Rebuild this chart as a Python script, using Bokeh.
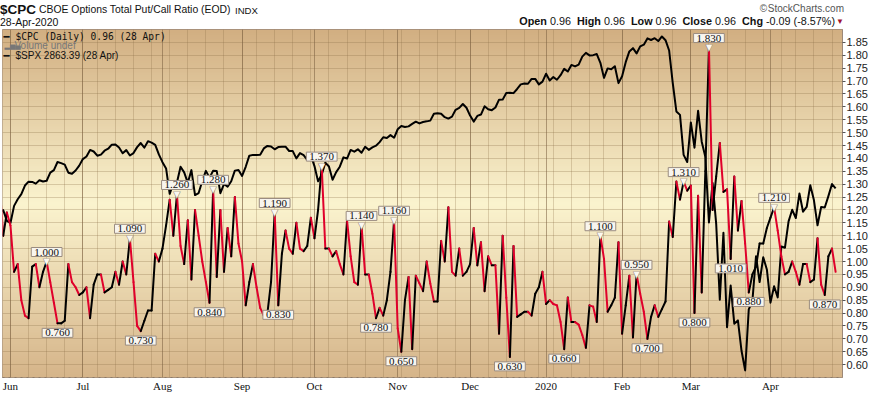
import numpy as np
import pandas as pd
from bokeh.plotting import figure
from bokeh.layouts import column
from bokeh.models import (ColumnDataSource, Range1d, FixedTicker, Grid, Label, Div,
                          NumeralTickFormatter)
from bokeh.core.properties import value
from bokeh.embed import file_html
from bokeh.resources import INLINE

# ---------------- data ----------------
holidays = ["2019-07-04", "2019-09-02", "2019-11-28", "2019-12-25",
            "2020-01-01", "2020-01-20", "2020-02-17", "2020-04-10"]
first_day, last_day = "2019-05-29", "2020-04-28"

cpc_may = [1.30, 1.10, 1.19]
cpc_jun = [1.14, 0.96, 0.99, 0.85, 0.79, 0.78, 0.98, 0.99, 0.90, 0.96,
           1.00, 0.92, 0.84, 0.76, 0.76, 0.77, 0.99, 0.92, 0.90, 0.87]
cpc_jul = [0.88, 0.90, 0.78, 0.91, 0.95, 0.95, 0.88, 0.89, 0.90, 0.96, 0.91,
           1.00, 0.95, 1.09, 0.92, 0.75, 0.73, 0.77, 0.81, 0.81, 1.03, 1.00]
cpc_aug = [1.05, 1.14, 1.24, 1.10, 1.26, 1.06, 0.99, 1.16, 0.93, 1.20, 1.10,
           1.00, 0.92, 0.84, 1.28, 0.94, 1.20, 0.96, 1.13, 1.02, 1.25, 1.07]
cpc_sep = [1.00, 0.83, 0.92, 0.99, 0.90, 0.82, 0.79, 0.80, 0.92, 1.19,
           0.83, 1.03, 1.12, 1.05, 1.03, 1.15, 1.05, 1.04, 1.06, 1.17]
cpc_oct = [1.09, 1.20, 1.37, 1.05, 1.05, 1.02, 1.04, 0.99, 0.95, 1.16, 1.02, 0.92,
           0.91, 1.14, 0.95, 0.95, 0.875, 0.78, 0.82, 0.79, 0.85, 0.96, 1.16]
cpc_nov = [0.74, 0.65, 0.85, 0.94, 0.66, 0.945, 0.915, 0.885, 1.00, 0.915,
           0.845, 0.845, 1.08, 1.00, 1.21, 0.96, 0.945, 1.05, 0.945, 0.96]
cpc_dec = [0.99, 1.13, 0.985, 1.075, 0.885, 1.02, 0.985, 0.985, 0.72, 1.10, 0.86,
           0.63, 1.06, 0.785, 0.795, 0.805, 0.805, 0.79, 0.875, 0.90, 0.96]
cpc_jan = [0.835, 0.85, 0.835, 0.83, 0.765, 0.66, 0.86, 0.765, 0.765, 0.755, 0.715,
           0.665, 0.83, 0.825, 0.765, 1.10, 1.01, 0.805, 0.83, 0.86, 1.075]
cpc_feb = [0.72, 0.83, 0.945, 0.705, 0.95, 0.875, 0.805, 0.70, 0.785, 0.83,
           0.785, 0.815, 0.845, 1.155, 1.095, 1.31, 1.24, 1.31, 1.275]
cpc_mar = [1.295, 0.80, 1.255, 0.88, 1.35, 1.83, 1.20, 1.33, 1.46, 1.27, 1.28,
           1.01, 1.33, 1.12, 1.235, 1.07, 0.88, 0.95, 0.98, 1.07, 1.07, 1.13]
cpc_apr = [1.17, 1.21, 1.12, 1.02, 0.95, 0.96, 1.00, 0.96, 0.91, 0.99,
           0.99, 0.92, 0.93, 1.09, 0.91, 0.87, 1.02, 1.05, 0.96]

spx_may = [2783.02, 2788.86, 2752.06]
spx_jun = [2744.45, 2803.27, 2826.15, 2843.49, 2873.34, 2886.73, 2885.72, 2879.84,
           2891.64, 2886.98, 2889.67, 2917.75, 2926.46, 2954.18, 2950.46, 2945.35,
           2917.38, 2913.78, 2924.92, 2941.76]
spx_jul = [2964.33, 2973.01, 2995.82, 2990.41, 2975.95, 2979.63, 2993.07, 2999.91,
           3013.77, 3014.30, 3004.04, 2984.42, 2995.11, 2976.61, 2985.03, 3005.47,
           3019.56, 3003.67, 3025.86, 3020.97, 3013.18, 2980.38]
spx_aug = [2953.56, 2932.05, 2844.74, 2881.77, 2883.98, 2938.09, 2918.65, 2882.70,
           2926.32, 2840.60, 2847.60, 2888.68, 2923.65, 2900.51, 2924.43, 2922.95,
           2847.11, 2878.38, 2869.16, 2887.94, 2924.58, 2926.46]
spx_sep = [2906.27, 2937.78, 2976.00, 2978.71, 2978.43, 2979.39, 3000.93, 3009.57,
           3007.39, 2997.96, 3005.70, 3006.73, 3006.79, 2992.07, 2991.78, 2966.60,
           2984.87, 2977.62, 2961.79, 2976.74]
spx_oct = [2940.25, 2887.61, 2910.63, 2952.01, 2938.79, 2893.06, 2919.40, 2938.13,
           2970.27, 2966.15, 2995.68, 2989.69, 2997.95, 2986.20, 3006.72, 2995.99,
           3004.52, 3010.29, 3022.55, 3039.42, 3036.89, 3046.77, 3037.56]
spx_nov = [3066.91, 3078.27, 3074.62, 3076.78, 3085.18, 3093.08, 3087.01, 3091.84,
           3094.04, 3096.63, 3120.46, 3122.03, 3120.18, 3108.46, 3103.54, 3110.29,
           3133.64, 3140.52, 3153.63, 3140.98]
spx_dec = [3113.87, 3093.20, 3112.76, 3117.43, 3145.91, 3135.96, 3132.52, 3141.63,
           3168.57, 3168.80, 3191.45, 3192.52, 3191.14, 3205.37, 3221.22, 3224.01,
           3223.38, 3239.91, 3240.02, 3221.29, 3230.78]
spx_jan = [3257.85, 3234.85, 3246.28, 3237.18, 3253.05, 3274.70, 3265.35, 3288.13,
           3283.15, 3289.29, 3316.81, 3329.62, 3320.79, 3321.75, 3325.54, 3295.47,
           3243.63, 3276.24, 3273.40, 3283.66, 3225.52]
spx_feb = [3248.92, 3297.59, 3334.69, 3345.78, 3327.71, 3352.09, 3357.75, 3379.45,
           3373.94, 3380.16, 3370.29, 3386.15, 3373.23, 3337.75, 3225.89, 3128.21,
           3116.39, 2978.76, 2954.22]
spx_mar = [3090.23, 3003.37, 3130.12, 3023.94, 2972.37, 2746.56, 2882.23, 2741.38,
           2480.64, 2711.02, 2386.13, 2529.19, 2398.10, 2409.39, 2304.92, 2237.40,
           2447.33, 2475.56, 2630.07, 2541.47, 2626.65, 2584.59]
spx_apr = [2470.50, 2526.90, 2488.65, 2663.68, 2659.41, 2749.98, 2789.82, 2761.63,
           2846.06, 2783.36, 2799.55, 2874.56, 2823.16, 2736.56, 2799.31, 2797.80,
           2836.74, 2878.48, 2863.39]

# positions (trading-day index) of the annotated peaks / troughs
label_idx = [13, 16, 36, 39, 49, 58, 59, 76, 77, 89, 100, 104, 109, 111,
             141, 156, 166, 176, 179, 189, 192, 196, 202, 207, 214, 228]

y_ticks = [0.60, 0.65, 0.70, 0.75, 0.80, 0.85, 0.90, 0.95, 1.00, 1.05, 1.10, 1.15, 1.20,
           1.25, 1.30, 1.35, 1.40, 1.45, 1.50, 1.55, 1.60, 1.65, 1.70, 1.75, 1.80, 1.85]
month_names = {6: "Jun", 7: "Jul", 8: "Aug", 9: "Sep", 10: "Oct", 11: "Nov",
               12: "Dec", 1: "2020", 2: "Feb", 3: "Mar", 4: "Apr"}

# ---------------- build ----------------
cpc = (cpc_may + cpc_jun + cpc_jul + cpc_aug + cpc_sep + cpc_oct + cpc_nov +
       cpc_dec + cpc_jan + cpc_feb + cpc_mar + cpc_apr)
spx = (spx_may + spx_jun + spx_jul + spx_aug + spx_sep + spx_oct + spx_nov +
       spx_dec + spx_jan + spx_feb + spx_mar + spx_apr)
dates = [d for d in pd.bdate_range(first_day, last_day)
         if d.strftime("%Y-%m-%d") not in holidays]
n = len(cpc)
assert n == len(spx) == len(dates), (n, len(spx), len(dates))
xs = list(range(n))

month_x, month_lab, week_x = [], [], []
for k in range(1, n):
    if dates[k].month != dates[k - 1].month:
        month_x.append(k)
        month_lab.append(month_names[dates[k].month])
    if dates[k].isocalendar()[1] != dates[k - 1].isocalendar()[1]:
        week_x.append(k)

X0, X1 = 0.8, n + 0.9
Y0, Y1 = 0.55, 1.90
FONT = "Liberation Sans"
NARROW = "Liberation Sans Narrow"
FIG_H = 365

p = figure(width=870, height=FIG_H, output_backend="svg", toolbar_location=None, tools="",
           x_range=Range1d(X0, X1), y_range=Range1d(Y0, Y1),
           y_axis_location="right",
           min_border_left=2, min_border_right=25, min_border_top=0, min_border_bottom=0)
p.extra_y_ranges = {"spx": Range1d(2213, 3410)}
p.border_fill_color = "white"
p.background_fill_color = "#f2e4bd"
p.outline_line_color = "#9c8878"
p.outline_line_width = 1

# background gradient (tan - cream - tan)
N = 200
t = np.linspace(0, 1, N)
stops_t = [0.0, 0.5, 1.0]
stops_c = np.array([[214, 181, 138], [251, 244, 207], [210, 175, 130]], dtype=float)
img = np.empty((N, 1), dtype=np.uint32)
view = img.view(dtype=np.uint8).reshape((N, 1, 4))
for ch in range(3):
    view[:, 0, ch] = np.interp(t, stops_t, stops_c[:, ch]).astype(np.uint8)
view[:, 0, 3] = 255
p.image_rgba(image=[img], x=X0 - 1, y=Y0, dw=X1 - X0 + 2, dh=Y1 - Y0, level="image")

# grids
p.ygrid.ticker = FixedTicker(ticks=y_ticks)
p.ygrid.grid_line_color = "#8c7048"
p.ygrid.grid_line_alpha = 0.30
p.xgrid.ticker = FixedTicker(ticks=week_x)
p.xgrid.grid_line_color = "#8c7048"
p.xgrid.grid_line_alpha = 0.28
p.add_layout(Grid(dimension=0, ticker=FixedTicker(ticks=month_x),
                  grid_line_color="#7a5e40", grid_line_alpha=0.55))

# right axis
ay = p.yaxis[0]
ay.ticker = FixedTicker(ticks=y_ticks)
ay.formatter = NumeralTickFormatter(format="0.00")
ay.axis_line_color = "#9c8878"
ay.major_tick_out = 3
ay.major_tick_in = 0
ay.minor_tick_out = 0
ay.minor_tick_in = 0
ay.minor_tick_line_color = None
ay.major_tick_line_color = "#555555"
ay.major_label_standoff = 1
ay.major_label_text_font = FONT
ay.major_label_text_font_size = "11px"
ay.major_label_text_color = "#222222"

# bottom axis (month labels)
ax = p.xaxis[0]
ax.ticker = FixedTicker(ticks=month_x)
ax.major_label_overrides = {mx: ml for mx, ml in zip(month_x, month_lab)}
ax.major_tick_out = 0
ax.major_tick_in = 0
ax.minor_tick_out = 0
ax.minor_tick_in = 0
ax.major_tick_line_color = None
ax.minor_tick_line_color = None
ax.axis_line_color = "#8c7a6a"
ax.axis_line_dash = "dotted"
ax.major_label_standoff = 2
ax.major_label_text_font = NARROW
ax.major_label_text_font_size = "11px"
ax.major_label_text_color = "#111111"

# SPX overlay
p.line(xs, spx, y_range_name="spx", line_color="black", line_width=2, line_join="round")

# CPC, red when falling, black when rising
seg_col = ["#000000" if cpc[k + 1] >= cpc[k] else "#e0002b" for k in range(n - 1)]
seg = ColumnDataSource(dict(x0=xs[:-1], y0=cpc[:-1], x1=xs[1:], y1=cpc[1:], c=seg_col))
p.segment("x0", "y0", "x1", "y1", source=seg, line_color="c", line_width=2, line_cap="round")

# value labels
pk = [k for k in label_idx if cpc[k] >= cpc[k - 1]]
tr = [k for k in label_idx if cpc[k] < cpc[k - 1]]
for ks, anchor, off, arrow, aoff in ((pk, "bottom_center", -5, "\u25bc", 0),
                                      (tr, "top_center", 5, "\u25b2", 7)):
    src = ColumnDataSource(dict(x=ks, y=[cpc[k] for k in ks],
                                t=["%.3f" % cpc[k] for k in ks]))
    p.text("x", "y", text=value(arrow), source=src, text_align="center",
           text_baseline="alphabetic", y_offset=aoff, text_color="#9a8c80",
           text_font=value("DejaVu Sans"), text_font_size="10px")
    p.text("x", "y", text=value(arrow), source=src, text_align="center",
           text_baseline="alphabetic", y_offset=aoff, text_color="#fbf8f0",
           text_font=value("DejaVu Sans"), text_font_size="8px")
    p.text("x", "y", text="t", source=src, anchor=anchor, y_offset=off,
           text_font=value(NARROW), text_font_size="11px",
           text_color="#111111", background_fill_color="#f8f5ee",
           border_line_color="#9a8c80", padding=(3, 1))

# legend inside the plot: positioned in data units from the top of the range
last, prev = cpc[-1], cpc[-2]
chg = last - prev
PX = (Y1 - Y0) / 350.0   # value span of one pixel (approx)
def lab(x, dy, text, size="10px", font=FONT, color="#111111"):
    p.add_layout(Label(x=x, y=Y1 - dy * PX, x_units="screen", y_units="data", text=text,
                       text_font=font, text_font_size=size, text_color=color,
                       text_baseline="middle"))
lab(1, 7, "\u2501", font="DejaVu Sans")
lab(13, 7, "$CPC (Daily) %.2f (28 Apr)" % last, size="9.6px", font="DejaVu Sans Mono")
lab(2, 16.5, "\u2582\u2585\u2584", size="7px", color="#777777", font="DejaVu Sans")
lab(12, 16.5, "Volume undef", color="#777777")
lab(1, 26, "\u2501", font="DejaVu Sans")
lab(13, 26, "$SPX %.2f (28 Apr)" % spx[-1])

# header above the chart
header_html = (
    '<div style="position:relative;width:870px;height:29px;overflow:hidden;'
    'font-family:\'Liberation Sans\',Arial,sans-serif;color:#111;line-height:1;">'
    '<span style="position:absolute;left:0;top:3px;font-size:13.5px;font-weight:bold;">$CPC</span>'
    '<span style="position:absolute;left:39px;top:5px;font-size:10.4px;">'
    'CBOE Options Total Put/Call Ratio (EOD)</span>'
    '<span style="position:absolute;left:235px;top:6px;font-size:9.6px;">INDX</span>'
    '<span style="position:absolute;left:0;top:17px;font-size:10.5px;">28-Apr-2020</span>'
    '<span style="position:absolute;right:26px;top:4px;font-size:10px;color:#555;">'
    '&#169;&#8202;StockCharts.com</span>'
    '<span style="position:absolute;right:35px;top:16px;font-size:10.8px;white-space:nowrap;">'
    '<b>Open</b> %.2f&nbsp; <b>High</b> %.2f&nbsp; <b>Low</b> %.2f&nbsp; '
    '<b>Close</b> %.2f&nbsp; <b>Chg</b> %.2f (%.2f%%)</span>'
    '<span style="position:absolute;right:26px;top:18px;font-size:8px;color:#a01030;">&#9660;</span>'
    '</div>' % (last, last, last, last, chg, chg / prev * 100)
)
header = Div(text=header_html, width=870, height=29, margin=(0, 0, 0, 0))

layout = column(header, p, spacing=0, margin=(0, 0, 0, 0))
open("out.html", "w").write(file_html(layout, INLINE))
